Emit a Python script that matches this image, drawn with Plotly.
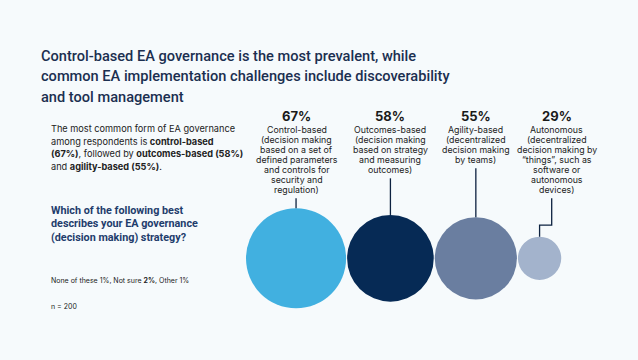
import plotly.graph_objects as go

# ---- data ----
categories = ["Control-based", "Outcomes-based", "Agility-based", "Autonomous"]
values = [67, 58, 55, 29]
descriptions = [
    ["Control-based", "(decision making", "based on a set of", "defined parameters",
     "and controls for", "security and", "regulation)"],
    ["Outcomes-based", "(decision making", "based on strategy", "and measuring", "outcomes)"],
    ["Agility-based", "(decentralized", "decision making", "by teams)"],
    ["Autonomous", "(decentralized", "decision making by", "\u201cthings\u201d, such as",
     "software or", "autonomous", "devices)"],
]
colors = ["#41b0e0", "#062a55", "#6a7ea0", "#a3b3cc"]

title_lines = [
    "Control-based EA governance is the most prevalent, while",
    "common EA implementation challenges include discoverability",
    "and tool management",
]
intro_lines = [
    "The most common form of EA governance",
    "among respondents is <b>control-based</b>",
    "<b>(67%)</b>, followed by <b>outcomes-based (58%)</b>",
    "and <b>agility-based (55%)</b>.",
]
question_lines = [
    "Which of the following best",
    "describes your EA governance",
    "(decision making) strategy?",
]
other_note = "None of these 1%, Not sure <b>2%</b>, Other 1%"
n_note = "n = 200"

# ---- layout constants ----
W, H = 638, 360
px_per_pct = 0.747
left_edge = 246
cy = 258.3
gap = 1
label_x = [296.7, 390.0, 475.7, 556.7]
pct_y = 115.7
desc_y0 = 129.3
desc_dy = 10.0
FONT = "Inter"
TFONT = "Roboto"
navy = "#1b2f50"

fig = go.Figure()
fig.add_trace(go.Scatter(x=[0, W], y=[0, H], mode="markers",
                         marker=dict(opacity=0), hoverinfo="skip", showlegend=False))

shapes = []
annotations = []

# circles
radii = [v * px_per_pct for v in values]
centers = []
x = left_edge
for r in radii:
    c = x + r
    centers.append(c)
    x = c + r + gap

for c, r, col in zip(centers, radii, colors):
    shapes.append(dict(type="circle", xref="x", yref="y", x0=c - r, x1=c + r,
                       y0=cy - r, y1=cy + r, fillcolor=col, line=dict(width=0), layer="below"))

# labels + leader lines
for i, (cat, v) in enumerate(zip(categories, values)):
    annotations.append(dict(x=label_x[i], y=pct_y, text=f"<b>{v}%</b>", showarrow=False,
                            xanchor="center", yanchor="middle",
                            font=dict(family=FONT, size=13, color="#1a1a1a")))
    for j, line in enumerate(descriptions[i]):
        annotations.append(dict(x=label_x[i], y=desc_y0 + j * desc_dy, text=line, showarrow=False,
                                xanchor="center", yanchor="middle",
                                font=dict(family=FONT, size=8.8, color="#222222")))
    text_bottom = desc_y0 + (len(descriptions[i]) - 1) * desc_dy + 9
    top = cy - radii[i]
    lx = label_x[i] if i < 3 else label_x[i] - 5
    if abs(lx - centers[i]) < 2:
        shapes.append(dict(type="line", xref="x", yref="y", x0=centers[i], x1=centers[i],
                           y0=text_bottom, y1=top, line=dict(color="#0d2240", width=1.3)))
    else:
        elbow = top - 11.5
        shapes.append(dict(type="path", xref="x", yref="y",
                           path=f"M {lx} {text_bottom} L {lx} {elbow} L {centers[i]} {elbow} L {centers[i]} {top}",
                           line=dict(color="#0d2240", width=1.3)))

# title
for j, line in enumerate(title_lines):
    annotations.append(dict(x=39, y=56 + j * 20.4, text=line, showarrow=False,
                            xanchor="left", yanchor="middle",
                            font=dict(family=TFONT, size=14.6, color=navy, weight=500)))

# intro text
for j, line in enumerate(intro_lines):
    annotations.append(dict(x=49, y=128.3 + j * 12.8, text=line, showarrow=False,
                            xanchor="left", yanchor="middle",
                            font=dict(family=FONT, size=9.2, color="#222222")))

# question
for j, line in enumerate(question_lines):
    annotations.append(dict(x=49, y=210 + j * 13.8, text=line, showarrow=False,
                            xanchor="left", yanchor="middle",
                            font=dict(family=TFONT, size=10.8, color="#1f3d6c", weight=700)))

annotations.append(dict(x=49, y=280, text=other_note, showarrow=False, xanchor="left",
                        yanchor="middle", font=dict(family=FONT, size=7.0, color="#222222")))
annotations.append(dict(x=49, y=306, text=n_note, showarrow=False, xanchor="left",
                        yanchor="middle", font=dict(family=FONT, size=7.0, color="#222222")))

fig.update_layout(
    width=W, height=H,
    margin=dict(l=0, r=0, t=0, b=0),
    paper_bgcolor="#f6fafc", plot_bgcolor="#f6fafc",
    xaxis=dict(range=[0, W], visible=False, fixedrange=True),
    yaxis=dict(range=[H, 0], visible=False, fixedrange=True),
    shapes=shapes, annotations=annotations, showlegend=False,
)

fig.write_html("out.html", config={"displayModeBar": False},
               post_script="document.body.style.margin='0';document.body.style.background='#f6fafc';")
